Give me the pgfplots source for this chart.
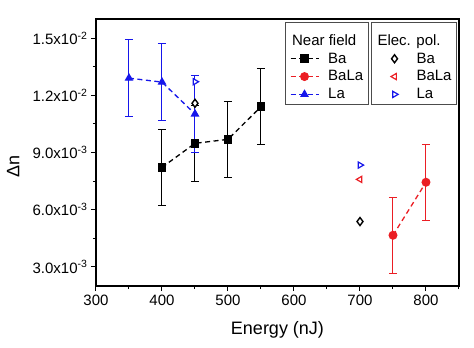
\documentclass[border=0pt]{standalone}
\usepackage{fontspec}
\setmainfont{Liberation Sans}
\usepackage{pgfplots}
\pgfplotsset{compat=1.18}
\definecolor{myred}{RGB}{235,30,36}
\definecolor{myblue}{RGB}{22,22,235}
\begin{document}
\begin{tikzpicture}
\pgfplotsset{
  base/.style={
    scale only axis, width=363pt, height=267pt,
    xmin=300, xmax=850, ymin=0.002, ymax=0.016,
    at={(0,0)}, anchor=south west,
  },
  nf/.style={dash pattern=on 5pt off 3.5pt, line width=1.3pt, mark size=3.8pt,
    mark options={solid},
    error bars/.cd, y dir=both, y explicit,
    error bar style={line width=1pt, solid},
    error mark options={rotate=90, mark size=4pt, line width=1pt, solid, #1}},
}
\begin{axis}[base,
  axis line style={line width=1.2pt},
  scaled y ticks=false,
  xtick={300,400,...,800}, minor xtick={350,450,...,850},
  ytick={0.003,0.006,0.009,0.012,0.015},
  yticklabels={3.0x10\textsuperscript{-3},6.0x10\textsuperscript{-3},9.0x10\textsuperscript{-3},1.2x10\textsuperscript{-2},1.5x10\textsuperscript{-2}},
  minor ytick={0.0045,0.0075,0.0105,0.0135},
  xtick pos=bottom, ytick pos=left, tick align=outside,
  major tick length=5pt, minor tick length=3pt,
  tick style={line width=1pt, black},
  ticklabel style={font=\fontsize{15}{18}\selectfont},
  /pgf/number format/assume math mode=true,
  xlabel={Energy (nJ)},
  ylabel={Δn},
  xlabel style={at={(axis description cs:0.5,-0.165)}, anchor=center, font=\fontsize{18}{21}\selectfont},
  ylabel style={at={(axis description cs:-0.228,0.446)}, anchor=center, font=\fontsize{18}{21}\selectfont},
  legend cell align=left,
  legend image code/.code={\path[draw=none,fill=none] (0pt,0pt) -- (30pt,0pt);\draw[mark repeat=2,mark phase=2,#1] plot coordinates {(2pt,0pt) (16pt,0pt) (30pt,0pt)};},
  legend style={at={(0.521,0.989)}, anchor=north west, draw=black!70, line width=0.8pt,
    font=\fontsize{15}{17}\selectfont, inner xsep=3pt, inner ysep=2pt, column sep=7pt, row sep=2pt},
]
\addlegendimage{empty legend}
\addlegendentry{\hspace*{-36pt}\rule{0pt}{19pt}Near field}
\addplot[black, mark=square*, nf=black] coordinates {
 (400,0.00822) +- (0,0.002)
 (450,0.00948) +- (0,0.002)
 (500,0.00969) +- (0,0.002)
 (550,0.01140) +- (0,0.002)
};
\addlegendentry{Ba}
\addplot[myred, mark=*, nf=myred] coordinates {
 (750,0.00466) +- (0,0.002)
 (800,0.00744) +- (0,0.002)
};
\addlegendentry{BaLa}
\addplot[myblue, mark=triangle*, nf=myblue] coordinates {
 (350,0.01290) +- (0,0.002)
 (400,0.01269) +- (0,0.002)
 (450,0.01102) +- (0,0.002)
};
\addlegendentry{La}
\end{axis}
\begin{axis}[base, hide axis,
  legend cell align=left,
  legend image code/.code={\path[draw=none,fill=none] (0pt,0pt) -- (40pt,0pt);\draw[#1] plot coordinates {(20pt,0pt)};},
  legend style={at={(0.758,0.989)}, anchor=north west, draw=black!70, line width=0.8pt,
    font=\fontsize{15}{17}\selectfont, inner xsep=3pt, inner ysep=2pt, column sep=0pt, row sep=2pt},
]
\addlegendimage{empty legend}
\addlegendentry{\hspace*{-39pt}\rule{0pt}{19pt}Elec. pol.}
\addplot[black, only marks, mark=diamond*, mark size=4pt,
  mark options={solid, fill=white, draw=black, line width=1.4pt}] coordinates {(450,0.01158) (700,0.00538)};
\addlegendentry{Ba}
\addplot[myred, only marks, mark=triangle*, mark size=3.6pt,
  mark options={solid, fill=white, draw=myred, line width=1.2pt, rotate=90}] coordinates {(700,0.00759)};
\addlegendentry{BaLa}
\addplot[myblue, only marks, mark=triangle*, mark size=3.6pt,
  mark options={solid, fill=white, draw=myblue, line width=1.2pt, rotate=-90}] coordinates {(450,0.01271) (700,0.00834)};
\addlegendentry{La}
\end{axis}
\path (0,0) ++(-96pt,-62pt) rectangle ++(474pt,348pt);
\end{tikzpicture}
\end{document}
